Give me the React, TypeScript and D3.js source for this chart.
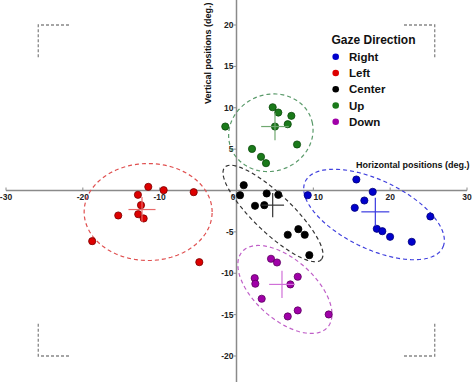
import React from 'react';
import * as d3 from 'd3';

const W = 474;
const H = 382;

const groups = ['Right', 'Left', 'Center', 'Up', 'Down'];
const fillColors = ['#0000cc', '#dd0000', '#000000', '#1a7a1a', '#a000a8'];
const strokeColors = ['#00007a', '#7a0000', '#000000', '#0a4a0a', '#5a005e'];
const ellipseColors = ['#4040dd', '#e05050', '#333333', '#5a9a6a', '#c060c8'];
const crossColors = ['#3a3ae0', '#e86868', '#333333', '#70a870', '#d070d8'];

const rightX = [15.6, 17.73, 9.27, 16.64, 15.39, 25.23, 18.26, 18.98, 19.99, 22.81];
const rightY = [1.33, -0.16, -0.57, -1.21, -2.09, -3.14, -4.63, -4.92, -5.6, -6.2];
const leftX = [-11.48, -9.48, -5.57, -12.83, -12.43, -15.39, -12.79, -12.08, -18.78, -4.84];
const leftY = [0.44, 0.04, -0.2, -0.52, -1.77, -3.02, -2.86, -3.38, -6.12, -8.66];
const centerX = [0.94, 0.46, 3.93, 5.44, 2.41, 3.62, 6.67, 8.05, 8.88, 9.48];
const centerY = [0.64, -0.57, -0.36, -0.52, -1.85, -1.77, -5.35, -4.67, -5.35, -7.81];
const upX = [4.71, 5.44, 7.14, 6.67, 5.01, -1.46, 7.88, 2.02, 3.19, 3.84];
const upY = [10.06, 9.42, 9.02, 8.01, 7.73, 7.73, 5.56, 5.03, 4.07, 3.3];
const downX = [4.49, 5.27, 2.37, 2.45, 7.97, 7.01, 3.28, 7.97, 6.67, 12.0];
const downY = [-8.25, -8.7, -10.59, -11.27, -10.42, -11.35, -13.08, -14.49, -15.22, -14.98];

const seriesX = [rightX, leftX, centerX, upX, downX];
const seriesY = [rightY, leftY, centerY, upY, downY];

// group mean crosses
const meanX = [18.07, -12.3, 4.71, 5.01, 5.92];
const meanY = [-2.58, -2.3, -1.77, 7.73, -11.35];
const errX = [1.82, 1.76, 1.48, 1.8, 1.67];
const errY = [1.7, 1.5, 1.46, 1.67, 1.65];

// confidence ellipses (data units, angle in degrees)
const ellCX = [17.9, -11.5, 4.75, 4.47, 6.3];
const ellCY = [-2.9, -2.6, -2.78, 6.98, -11.96];
const ellRX = [9.8, 8.33, 8.4, 5.53, 7.2];
const ellRY = [4.2, 5.86, 2.4, 4.65, 3.74];
const ellAngle = [-23.3, 0, -41.3, 12, -37.9];

const xTicks = [-30, -20, -10, 0, 10, 20, 30];
const yTicks = [-20, -15, -10, -5, 5, 10, 15, 20];

const cornerX = [-25.8, 25.8];
const cornerY = [-20, 20];
const cornerLen = 4;

export default function App() {
  const x = d3.scaleLinear().domain([-30, 30]).range([6, 467]);
  const y = d3.scaleLinear().domain([-20, 20]).range([356, 25]);
  const x0 = x(0);
  const y0 = y(0);

  const ellipsePath = (i: number) => {
    const a = (ellAngle[i] * Math.PI) / 180;
    const pts: [number, number][] = d3.range(0, 120).map((k) => {
      const t = (k / 120) * 2 * Math.PI;
      const ex = ellRX[i] * Math.cos(t);
      const ey = ellRY[i] * Math.sin(t);
      const dx = ex * Math.cos(a) - ey * Math.sin(a);
      const dy = ex * Math.sin(a) + ey * Math.cos(a);
      return [x(ellCX[i] + dx), y(ellCY[i] + dy)];
    });
    return d3.line().curve(d3.curveLinearClosed)(pts) || '';
  };

  const font = 'Arial, "Liberation Sans", Helvetica, sans-serif';

  return (
    <svg
      width={W}
      height={H}
      style={{ position: 'absolute', left: 0, top: 0, background: '#fff' }}
      fontFamily={font}
    >
      <rect x={0} y={0} width={W} height={H} fill="#fff" />
      {/* corner brackets */}
      {cornerX.map((cx) =>
        cornerY.map((cy) => {
          const sx = cx < 0 ? 1 : -1;
          const sy = cy < 0 ? 1 : -1;
          return (
            <path
              key={`c${cx}${cy}`}
              d={`M${x(cx + sx * cornerLen)},${y(cy)}L${x(cx)},${y(cy)}L${x(cx)},${y(cy + sy * cornerLen)}`}
              fill="none"
              stroke="#888"
              strokeWidth={1.3}
              strokeDasharray="3,2"
            />
          );
        })
      )}
      {/* axes */}
      <line x1={x(-30)} x2={x(30)} y1={y0} y2={y0} stroke="#8a8a8a" strokeWidth={1.5} />
      <line x1={x0} x2={x0} y1={0} y2={H} stroke="#8a8a8a" strokeWidth={1.5} />
      {xTicks.map((t) => (
        <g key={`xt${t}`}>
          <line x1={x(t)} x2={x(t)} y1={y0} y2={y0 - 3} stroke="#8a8a8a" strokeWidth={1} />
          <text
            x={t === 0 ? x(t) - 1 : t === 10 ? x(t) + 5 : x(t)}
            y={y0 + 9}
            textAnchor={t === 0 ? 'end' : 'middle'}
            fontSize={8.5}
            fontWeight="bold"
            fill="#222"
          >
            {t}
          </text>
        </g>
      ))}
      {yTicks.map((t) => (
        <g key={`yt${t}`}>
          <line x1={x0 - 3} x2={x0} y1={y(t)} y2={y(t)} stroke="#8a8a8a" strokeWidth={1} />
          <text
            x={x0 - 3}
            y={y(t) + 3}
            textAnchor="end"
            fontSize={8.5}
            fontWeight="bold"
            fill="#222"
          >
            {t}
          </text>
        </g>
      ))}
      <text
        transform={`translate(${x0 - 26},104) rotate(-90)`}
        fontSize={9}
        fontWeight="bold"
        fill="#111"
      >
        Vertical positions (deg.)
      </text>
      <text x={356} y={168} fontSize={9} fontWeight="bold" fill="#111">
        Horizontal positions (deg.)
      </text>
      {/* ellipses */}
      {groups.map((g, i) => (
        <path
          key={`e${g}`}
          d={ellipsePath(i)}
          fill="none"
          stroke={ellipseColors[i]}
          strokeWidth={1.2}
          strokeDasharray="4,3"
        />
      ))}
      {/* points */}
      {groups.map((g, i) =>
        seriesX[i].map((vx, j) => (
          <circle
            key={`p${g}${j}`}
            cx={x(vx)}
            cy={y(seriesY[i][j])}
            r={3.6}
            fill={fillColors[i]}
            stroke={strokeColors[i]}
            strokeWidth={0.8}
          />
        ))
      )}
      {/* crosses */}
      {groups.map((g, i) => (
        <g key={`x${g}`} stroke={crossColors[i]} strokeWidth={1.2}>
          <line x1={x(meanX[i] - errX[i])} x2={x(meanX[i] + errX[i])} y1={y(meanY[i])} y2={y(meanY[i])} />
          <line x1={x(meanX[i])} x2={x(meanX[i])} y1={y(meanY[i] - errY[i])} y2={y(meanY[i] + errY[i])} />
        </g>
      ))}
      {/* legend */}
      <text x={331.5} y={43.5} fontSize={12} fontWeight="bold" fill="#111">
        Gaze Direction
      </text>
      {groups.map((g, i) => (
        <g key={`l${g}`}>
          <circle cx={335.7} cy={56.7 + i * 16.25} r={3.3} fill={fillColors[i]} />
          <text x={349} y={60.8 + i * 16.25} fontSize={11.5} fontWeight="bold" fill="#111">
            {g}
          </text>
        </g>
      ))}
    </svg>
  );
}
